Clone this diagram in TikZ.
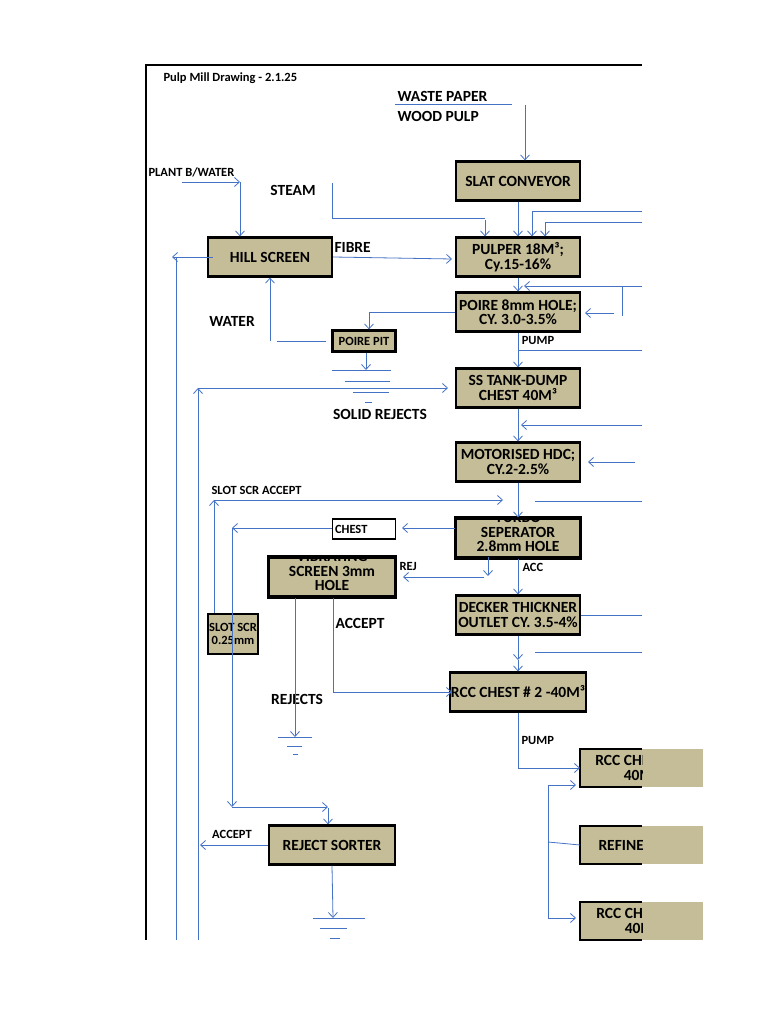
\documentclass[tikz,border=0pt]{standalone}
\usepackage{fontspec}
\setmainfont{Carlito}
\usetikzlibrary{arrows.meta}
\definecolor{pipe}{RGB}{68,114,196}
\definecolor{tan}{RGB}{196,189,151}
\tikzset{
  box/.style={draw, line width=2.2pt, fill=tan, minimum width=124pt, minimum height=39pt,
    inner sep=1pt, align=center, font=\bfseries\fontsize{15.5}{14.5}\selectfont},
  flow/.style={draw=pipe, line width=0.8pt},
  to/.style={flow, -{Straight Barb[length=5pt,width=9pt]}},
  lbl/.style={font=\bfseries\fontsize{15.5}{15}\selectfont},
  sml/.style={font=\bfseries\fontsize{12.5}{12}\selectfont},
}
\begin{document}
\begin{tikzpicture}[x=1pt,y=-1pt]
  \useasboundingbox (0,0) rectangle (768,1024);
  \draw[line width=1.5pt] (642,65) -- (146,65) -- (146,940);
  \node[sml, anchor=west] (title) at (160,78) {Pulp Mill Drawing - 2.1.25};

  % main column
  \node[box] (slat) at (518,181) {SLAT CONVEYOR};
  \node[box] (pulper) at (518,257) {PULPER 18M³;\\Cy.15-16\%};
  \node[box] (poire) at (518,312) {POIRE 8mm HOLE;\\CY. 3.0-3.5\%};
  \node[box] (sstank) at (518,388) {SS TANK-DUMP\\CHEST 40M³};
  \node[box] (hdc) at (518,462) {MOTORISED HDC;\\CY.2-2.5\%};
  \node[box] (turbo) at (518,538) {};
  \node[box] (decker) at (518,615) {DECKER THICKNER\\OUTLET CY. 3.5-4\%};
  \node[box] (rcc2) at (518,692) {RCC CHEST \# 2 -40M³};
  \node[box] (hill) at (270,257) {HILL SCREEN};
  \node[box, minimum width=63pt, minimum height=21pt, font=\bfseries\fontsize{12.5}{12}\selectfont] (pit) at (364,341) {POIRE PIT};
  \node[draw, line width=1.5pt, minimum width=63pt, minimum height=20pt, inner sep=1pt, sml, text width=58pt] (chest) at (364,529) {CHEST};
  \node[box, minimum width=126pt] (vib) at (332,577) {};
  \node[box, minimum width=50pt, minimum height=40pt, font=\bfseries\fontsize{12.5}{12.5}\selectfont] (slot) at (233,634) {SLOT SCR\\0.25mm};
  \node[box, minimum width=126pt] (sorter) at (332,845) {REJECT SORTER};

  % texts running over the top of their boxes
  \begin{scope}
    \clip (turbo.north west) rectangle (turbo.south east);
    \node[box, draw=none, fill=none] (turbotxt) at (518,532) {TURBO\\SEPERATOR\\2.8mm HOLE};
  \end{scope}
  \begin{scope}
    \clip (vib.north west) rectangle (vib.south east);
    \node[box, draw=none, fill=none] (vibtxt) at (332,571) {VIBRATING\\SCREEN 3mm\\HOLE};
  \end{scope}
  \draw[line width=2.2pt] (turbo.north west) rectangle (turbo.south east);
  \draw[line width=2.2pt] (vib.north west) rectangle (vib.south east);

  % cut-off boxes on the right
  \foreach \yy/\txt/\xx/\anc [count=\i] in {768/{RCC CHEST \# 3\\40M³}/641/center, 845/{REFINER 2 \& 3}/581/west, 921/{RCC CHEST \# 4\\40M³}/642/center} {
    \fill[tan] (580,\yy-19) rectangle (703,\yy+19);
    \draw[line width=2.2pt] (642,\yy-19) -- (580,\yy-19) -- (580,\yy+19) -- (642,\yy+19);
    \begin{scope}
      \clip (580,\yy-19) rectangle (642,\yy+19);
      \node[box, draw=none, fill=none, anchor=\anc] (rt\i) at (\xx,\yy) {\txt};
    \end{scope}
  }
  \coordinate (r1) at (580,768);
  \coordinate (r2) at (580,845);
  \coordinate (r3) at (580,921);

  % texts
  \node[lbl, anchor=west] (waste) at (394,96) {WASTE PAPER};
  \node[lbl, anchor=west] (wood) at (394,116) {WOOD PULP};
  \node[sml, anchor=west] (plant) at (145,172) {PLANT B/WATER};
  \node[lbl] (steam) at (293,190) {STEAM};
  \node[lbl, anchor=west] (fibre) at (331,247) {FIBRE};
  \node[lbl] (water) at (232,321) {WATER};
  \node[lbl] (solid) at (380,414) {SOLID REJECTS};
  \node[sml] (pump1) at (538,340) {PUMP};
  \node[sml, anchor=west] (slotacc) at (208,490) {SLOT SCR ACCEPT};
  \node[sml, anchor=west] (rej) at (396,566) {REJ};
  \node[sml, anchor=west] (acc) at (519,567) {ACC};
  \node[lbl, anchor=west] (accept) at (332,623) {ACCEPT};
  \node[lbl] (rejects) at (297,699) {REJECTS};
  \node[sml, anchor=west] (pump2) at (518,740) {PUMP};
  \node[sml] (accept2) at (232,834) {ACCEPT};

  % feed to pulper
  \draw[flow] (395,104) -- (512,104);
  \draw[to] (525,105) -- (slat.north -| 525,0);
  \draw[to] (slat.south) -- (pulper.north);
  \draw[flow] (332,183) -- (332,218) -- (485,218);
  \draw[to] (485,220) -- (pulper.north -| 485,0);
  \draw[to] (642,211) -- (532,211) -- (pulper.north -| 532,0);
  \draw[to] (642,222) -- (545,222) -- (pulper.north -| 545,0);
  \draw[to] (182,182) -- (240,182);
  \draw[to] (240,182) -- (hill.north -| 240,0);
  \draw[to] (hill.east) -- (452,259);
  \draw[to] (213,257) -- (172,257);
  \draw[flow] (176,257) -- (176,940);
  \draw[flow] (326,341) -- (277,341);
  \draw[to] (270,341) -- (hill.south -| 270,0);

  % poire
  \draw[to] (pulper.south) -- (poire.north);
  \draw[to] (642,286) -- (524,286);
  \draw[flow] (622,286) -- (622,316);
  \draw[to] (614,313) -- (585,313);
  \draw[to] (poire.west) -- (369,312) -- (pit.north -| 369,0);
  \draw[to] (pit.south -| 366,0) -- (366,370);
  \draw[flow] (332,370) -- (391,370) (345,381) -- (390,381) (353,392) -- (389,392) (365,402) -- (372,402);
  \draw[to] (poire.south) -- (sstank.north);
  \draw[flow] (518,350) -- (642,350);
  \draw[to] (198,940) -- (198,388);
  \draw[to] (198,388) -- (448,388);

  % hdc, turbo
  \draw[to] (sstank.south) -- (hdc.north);
  \draw[to] (642,425) -- (521,425);
  \draw[to] (635,462) -- (588,462);
  \draw[to] (hdc.south) -- (turbo.north);
  \draw[flow] (535,501) -- (642,501);
  \draw[to] (slot.north -| 214,0) -- (214,500);
  \draw[to] (214,500) -- (503,500);
  \draw[to] (turbo.west |- 0,528) -- (402,528);
  \draw[to] (chest.west |- 0,528) -- (232,528);
  \draw[to] (232,528) -- (232,807);
  \draw[to] (232,807) -- (328,807);
  \draw[to] (328,808) -- (sorter.north -| 328,0);
  \draw[to] (488,557) -- (488,576);
  \draw[to] (484,577) -- (403,577);

  % decker, rcc
  \draw[to] (turbo.south) -- (decker.north);
  \draw[flow] (decker.east) -- (642,615);
  \draw[to] (decker.south) -- (518,660);
  \draw[flow] (535,652) -- (642,652);
  \draw[to] (518,660) -- (rcc2.north);
  \draw[flow] (vib.south -| 333,0) -- (333,692);
  \draw[to] (333,692) -- (452,692);
  \draw[to] (vib.south -| 295,0) -- (295,737);
  \draw[flow] (278,737) -- (312,737) (287,746) -- (302,746) (293,754) -- (298,754);
  \draw[flow] (rcc2.south) -- (518,768);
  \draw[to] (518,768) -- (r1);
  \draw[flow] (548,785) -- (548,918);
  \draw[to] (548,785) -- (576,785);
  \draw[flow] (548,842) -- (r2);
  \draw[to] (548,918) -- (576,918);

  % reject sorter
  \draw[to] (sorter.west) -- (200,845);
  \draw[to] (sorter.south) -- (333,918);
  \draw[flow] (313,918) -- (365,918) (320,928) -- (347,928) (330,938) -- (340,938);
\end{tikzpicture}
\end{document}
